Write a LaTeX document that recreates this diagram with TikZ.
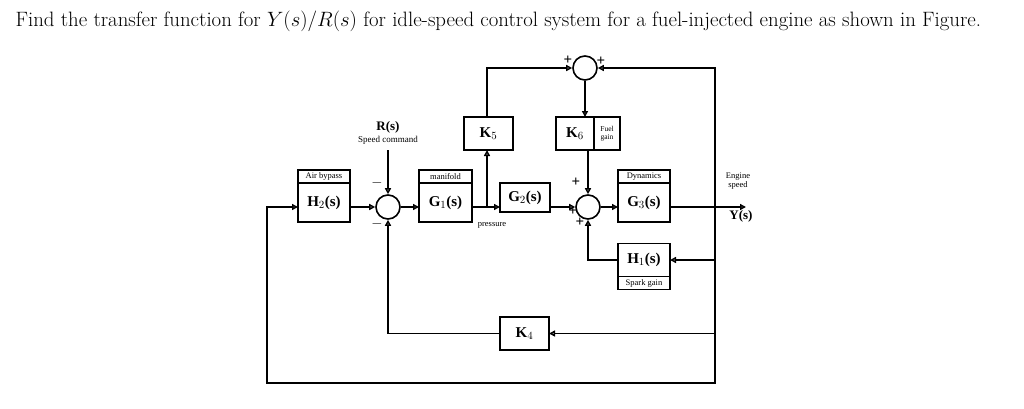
\documentclass[tikz,border=0pt]{standalone}
\usepackage{fontspec}
\newfontfamily\diag{Liberation Serif}
\usetikzlibrary{arrows.meta}
\tikzset{
	% blocks, summing points and signal lines of the diagram
	block/.style={draw,line width=1.6pt,minimum height=33,inner sep=0,outer sep=0,font=\diag\fontsize{15}{17}\selectfont\bfseries},
	tag/.style={draw,line width=1.6pt,minimum height=13,inner sep=0,outer sep=0,font=\diag\fontsize{8.5}{9}\selectfont},
	sum/.style={circle,draw,line width=1.6pt,minimum size=24,inner sep=0},
	sig/.style={line width=1.6pt,-{Triangle[open,length=6pt,width=6pt]}},
	wire/.style={line width=1.6pt},
	sign/.style={font=\diag\fontsize{15}{15}\selectfont\bfseries,inner sep=0}
}
\begin{document}
\begin{tikzpicture}[x=1pt,y=-1pt]
	\useasboundingbox (0,0) rectangle (1024,408);
	\node[anchor=west,font=\fontsize{20.8}{24}\selectfont] at (12,21) {Find the transfer function for $Y(s)/R(s)$ for idle-speed control system for a fuel-injected engine as shown in Figure.};

	% forward path
	\node(h2)[block,minimum width=52,minimum height=39] at (324,202.5) {H$_2$(s)};
	\node(h2t)[tag,minimum width=52,anchor=south] at (h2.north) {Air bypass};
	\node(s1)[sum] at (388,207) {};
	\node(g1)[block,minimum width=53,minimum height=39] at (445.5,202.5) {G$_1$(s)};
	\node(g1t)[tag,minimum width=53,anchor=south] at (g1.north) {manifold};
	\node(g2)[block,minimum width=50,minimum height=29] at (525,197.5) {G$_2$(s)};
	\node(s2)[sum] at (588,207) {};
	\node(g3)[block,minimum width=52,minimum height=39] at (644,202.5) {G$_3$(s)};
	\node(g3t)[tag,minimum width=52,anchor=south] at (g3.north) {Dynamics};

	% upper blocks
	\node(k5)[block,minimum width=49] at (488.5,133.5) {K$_5$};
	\node(k6)[block,minimum width=38] at (575,133.5) {K$_6$};
	\node(k6t)[tag,minimum width=26,minimum height=33,anchor=west,align=center,font=\diag\fontsize{7.5}{8.5}\selectfont] at (k6.east) {Fuel\\gain};
	\node(s3)[sum] at (585,68) {};

	% lower blocks
	\node(h1)[block,minimum width=52] at (644,260) {H$_1$(s)};
	\node(h1t)[tag,minimum width=52,anchor=north] at (h1.south) {Spark gain};
	\node(k4)[block,minimum width=49] at (524.5,333.5) {K$_4$};

	\coordinate(p) at (487,207);
	\coordinate(y) at (715,207);
	\coordinate(out) at (746,207);

	% connections
	\draw[sig] (h2.east|-s1) -- (s1);
	\draw[sig] (s1) -- (g1.west|-s1);
	\draw[wire] (g1.east|-s1) -- (p);
	\draw[sig] (p) -- (g2.west|-s1);
	\draw[sig] (p) -- (k5.south-|p);
	\draw[sig] (k5.north-|p) |- (s3);
	\draw[sig] (s3) -- (k6.north-|s3);
	\draw[sig] (k6.south-|s2) -- (s2);
	\draw[sig] (g2.east|-s2) -- (s2);
	\draw[sig] (s2) -- (g3.west|-s2);
	\draw[sig] (g3.east|-s2) -- (out);
	\draw[sig] (y) |- (s3);
	\draw[sig] (y) |- (h1.east);
	\draw[sig] (h1.west) -| (s2);
	\draw[sig] (y) |- (k4.east);
	\draw[sig] (k4.west) -| (s1);
	\draw[sig] (y) -- ++(0,176) -| (267,207) -- (h2.west|-s1);
	\draw[sig] (388,150) -- (s1);

	% labels and signs
	\node[font=\diag\fontsize{13}{14}\selectfont\bfseries] at (388,127) {R(s)};
	\node[font=\diag\fontsize{9}{10}\selectfont] at (388,140) {Speed command};
	\node[font=\diag\fontsize{8.5}{9}\selectfont] at (492,225) {pressure};
	\node[font=\diag\fontsize{8.5}{9}\selectfont,align=center,inner sep=0] at (738,181) {Engine\\speed};
	\node[font=\diag\fontsize{13}{14}\selectfont\bfseries] at (741,216) {Y(s)};
	\node[sign] at (377,183) {$-$};
	\node[sign] at (377,224) {$-$};
	\node[sign] at (576,182) {+};
	\node[sign] at (573,211) {+};
	\node[sign] at (580,222) {+};
	\node[sign] at (568,60) {+};
	\node[sign] at (601,61) {+};
\end{tikzpicture}
\end{document}
